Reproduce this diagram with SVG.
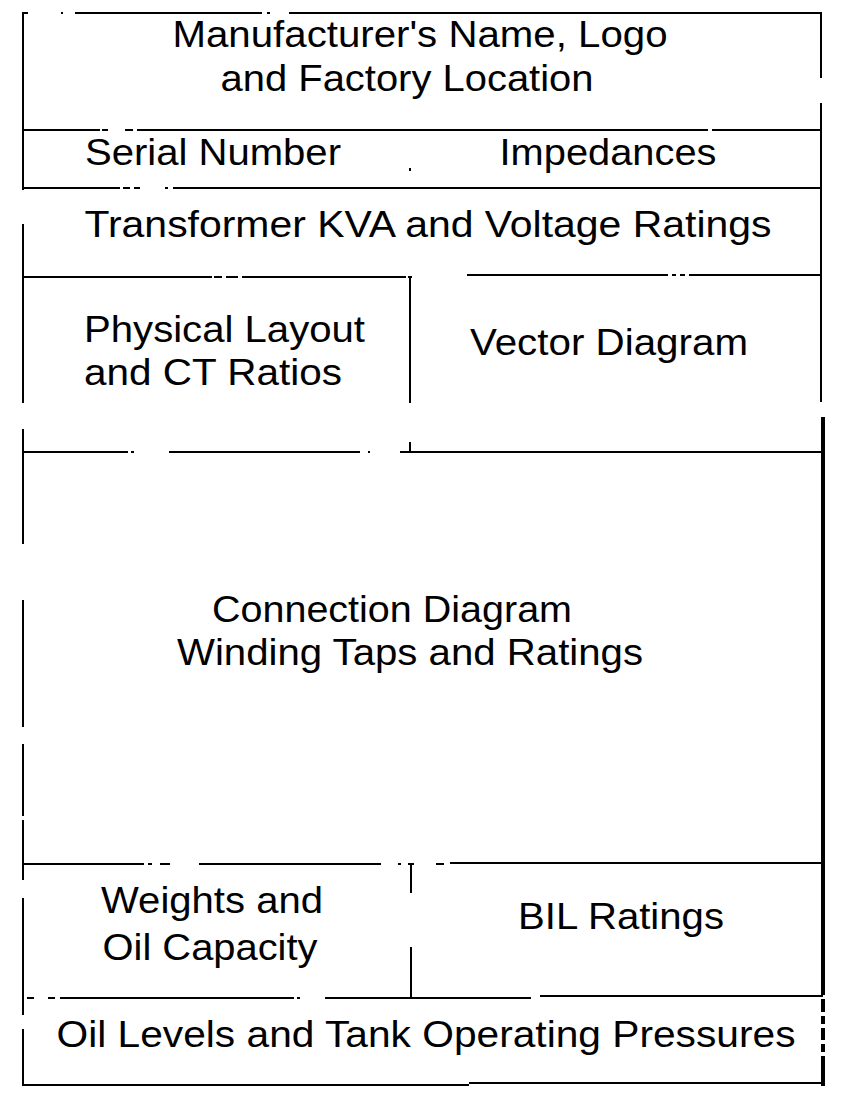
<svg xmlns="http://www.w3.org/2000/svg" width="850" height="1094" viewBox="0 0 850 1094">
<style>
.ln{stroke:#000;stroke-width:2;fill:none}
.thick{stroke:#000;stroke-width:4;fill:none}
.t{font-family:"Liberation Sans",Arial,sans-serif;font-size:37px;fill:#000}
.c{text-anchor:middle}
</style>
<rect width="850" height="1094" fill="#fff"/>
<g id="frame">
  <!-- top -->
  <path class="ln" d="M23 13H28 M61 13H63 M75 13H262 M267 13H270 M289 13H821"/>
  <!-- left border -->
  <path class="ln" d="M23 12V190 M23 224V403 M23 429V544 M23 600V727 M23 744V816 M23 820V880 M23 898V1015 M23 1029V1086"/>
  <!-- right border thin -->
  <path class="ln" d="M821 12V78 M821 103V402"/>
  <!-- right border thick -->
  <path class="thick" d="M823 417V995 M823 999V1012 M823 1016V1024 M823 1028V1040 M823 1044V1052 M823 1056V1086"/>
  <!-- row lines -->
  <path class="ln" d="M23 130H100 M102 130H108 M125 130H133 M137 130H708 M712 130H821"/>
  <path class="ln" d="M23 188H120 M123 188H130 M134 188H140 M165 188H168 M173 188H821"/>
  <path class="ln" d="M23 277H212 M214 277H222 M226 277H238 M242 277H406 M408 277H412"/>
  <path class="ln" d="M467 275H668 M672 275H676 M680 275H685 M689 275H822"/>
  <path class="ln" d="M23 452H128 M131 452H134 M169 452H360 M368 452H370 M400 452H823"/>
  <path class="ln" d="M23 864H144 M148 864H152 M160 864H170 M199 864H381 M398 864H401 M408 864H414 M436 864H444 M450 863H823"/>
  <path class="ln" d="M27 998H34 M48 998H55 M60 998H294 M297 998H300 M325 998H531 M540 996H823"/>
  <path class="ln" d="M23 1085H469 M469 1083H823"/>
  <!-- column dividers -->
  <path class="ln" d="M410 277V403 M410 442V452"/>
  <path class="ln" d="M411 864V893 M411 947V997"/>
  <path class="ln" d="M410 168V171"/>
</g>
<g id="header">
  <text class="t c" x="420" y="47" textLength="495" lengthAdjust="spacingAndGlyphs">Manufacturer's Name, Logo</text>
  <text class="t c" x="407" y="91" textLength="373" lengthAdjust="spacingAndGlyphs">and Factory Location</text>
</g>
<g id="serial-number">
  <text class="t c" x="213" y="165" textLength="256" lengthAdjust="spacingAndGlyphs">Serial Number</text>
</g>
<g id="impedances">
  <text class="t c" x="608" y="165" textLength="217" lengthAdjust="spacingAndGlyphs">Impedances</text>
</g>
<g id="kva-ratings">
  <text class="t c" x="428" y="237" textLength="687" lengthAdjust="spacingAndGlyphs">Transformer KVA and Voltage Ratings</text>
</g>
<g id="physical-layout">
  <text class="t" x="84" y="342" textLength="281" lengthAdjust="spacingAndGlyphs">Physical Layout</text>
  <text class="t" x="84" y="385" textLength="258" lengthAdjust="spacingAndGlyphs">and CT Ratios</text>
</g>
<g id="vector-diagram">
  <text class="t c" x="609" y="355" textLength="278" lengthAdjust="spacingAndGlyphs">Vector Diagram</text>
</g>
<g id="connection-diagram">
  <text class="t c" x="392" y="622" textLength="360" lengthAdjust="spacingAndGlyphs">Connection Diagram</text>
  <text class="t c" x="410" y="665" textLength="466" lengthAdjust="spacingAndGlyphs">Winding Taps and Ratings</text>
</g>
<g id="weights">
  <text class="t c" x="212" y="913" textLength="222" lengthAdjust="spacingAndGlyphs">Weights and</text>
  <text class="t c" x="210" y="960" textLength="215" lengthAdjust="spacingAndGlyphs">Oil Capacity</text>
</g>
<g id="bil-ratings">
  <text class="t c" x="621" y="929" textLength="206" lengthAdjust="spacingAndGlyphs">BIL Ratings</text>
</g>
<g id="oil-levels">
  <text class="t c" x="426" y="1047" textLength="739" lengthAdjust="spacingAndGlyphs">Oil Levels and Tank Operating Pressures</text>
</g>
</svg>
